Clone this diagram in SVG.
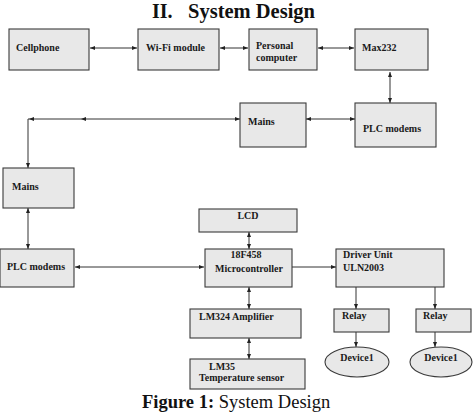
<svg xmlns="http://www.w3.org/2000/svg" width="474" height="413" viewBox="0 0 474 413">
<style>
.box{fill:#e8e8e8;stroke:#3a3a3a;stroke-width:1.1}
.lbl{font-family:"Liberation Serif",serif;font-weight:bold;font-size:10px;fill:#1a1a1a}
.c{stroke:#333;stroke-width:1;fill:none}
.ah{fill:#222}
</style>
<defs>
<marker id="a" viewBox="0 0 10 10" refX="10" refY="5" markerWidth="5" markerHeight="5" markerUnits="userSpaceOnUse" orient="auto-start-reverse">
<path d="M0,1 L10,5 L0,9 Z" fill="#222"/>
</marker>
</defs>
<rect width="474" height="413" fill="#fff"/>
<text x="152" y="18" font-family="Liberation Serif,serif" font-weight="bold" font-size="20" fill="#111">II.</text>
<text x="188" y="18" font-family="Liberation Serif,serif" font-weight="bold" font-size="20.5" fill="#111">System Design</text>

<g id="connectors">
<path class="c" d="M90,48 L137,48" marker-start="url(#a)" marker-end="url(#a)"/>
<path class="c" d="M220,48 L248,48" marker-start="url(#a)" marker-end="url(#a)"/>
<path class="c" d="M318,48 L354,48" marker-start="url(#a)" marker-end="url(#a)"/>
<path class="c" d="M390,72 L390,103" marker-start="url(#a)" marker-end="url(#a)"/>
<path class="c" d="M306,119 L355,119" marker-start="url(#a)" marker-end="url(#a)"/>
<path class="c" d="M240,119 L28,119 L28,168" marker-start="url(#a)" marker-end="url(#a)"/>
<polygon class="ah" points="81,119 86,117 86,121"/>
<polygon class="ah" points="29,119 34,117 34,121"/>
<path class="c" d="M28,208 L28,249" marker-start="url(#a)" marker-end="url(#a)"/>
<path class="c" d="M75,267 L204,267" marker-start="url(#a)" marker-end="url(#a)"/>
<path class="c" d="M249,232 L249,249" marker-start="url(#a)" marker-end="url(#a)"/>
<path class="c" d="M292,267 L336,267" marker-end="url(#a)"/>
<path class="c" d="M249,287 L249,309" marker-start="url(#a)" marker-end="url(#a)"/>
<path class="c" d="M249,338 L249,359" marker-start="url(#a)" marker-end="url(#a)"/>
<path class="c" d="M356,287 L356,309" marker-end="url(#a)"/>
<path class="c" d="M435,287 L435,309" marker-end="url(#a)"/>
<path class="c" d="M356,332 L356,347" marker-end="url(#a)"/>
<path class="c" d="M435,332 L435,347" marker-end="url(#a)"/>
</g>

<g id="cellphone"><rect class="box" x="9" y="29" width="80" height="41"/><text class="lbl" x="16" y="51">Cellphone</text></g>
<g id="wifi"><rect class="box" x="138" y="29" width="81" height="41"/><text class="lbl" x="146" y="51">Wi-Fi module</text></g>
<g id="pc"><rect class="box" x="249" y="29" width="68" height="41"/><text class="lbl" x="256" y="49">Personal</text><text class="lbl" x="256" y="61">computer</text></g>
<g id="max232"><rect class="box" x="355" y="29" width="73" height="41"/><text class="lbl" x="362" y="51">Max232</text></g>
<g id="mains1"><rect class="box" x="240" y="103" width="66" height="44"/><text class="lbl" x="248" y="125">Mains</text></g>
<g id="plc1"><rect class="box" x="355" y="103" width="81" height="44"/><text class="lbl" x="363" y="132">PLC modems</text></g>
<g id="mains2"><rect class="box" x="3" y="168" width="71" height="40"/><text class="lbl" x="12" y="190">Mains</text></g>
<g id="plc2"><rect class="box" x="0" y="249" width="74" height="38"/><text class="lbl" x="7" y="270">PLC modems</text></g>
<g id="lcd"><rect class="box" x="199" y="209" width="98" height="23"/><text class="lbl" x="248" y="219" text-anchor="middle">LCD</text></g>
<g id="micro"><rect class="box" x="205" y="249" width="87" height="38"/><text class="lbl" x="246" y="258" text-anchor="middle">18F458</text><text class="lbl" x="249" y="272" text-anchor="middle">Microcontroller</text></g>
<g id="driver"><rect class="box" x="336" y="249" width="108" height="38"/><text class="lbl" x="343" y="258">Driver Unit</text><text class="lbl" x="343" y="271">ULN2003</text></g>
<g id="lm324"><rect class="box" x="190" y="309" width="111" height="29"/><text class="lbl" x="199" y="320">LM324 Amplifier</text></g>
<g id="relay1"><rect class="box" x="334" y="309" width="55" height="23"/><text class="lbl" x="342" y="319">Relay</text></g>
<g id="relay2"><rect class="box" x="416" y="309" width="55" height="23"/><text class="lbl" x="423" y="319">Relay</text></g>
<g id="lm35"><rect class="box" x="190" y="359" width="115" height="30"/><text class="lbl" x="209" y="370">LM35</text><text class="lbl" x="199" y="381">Temperature sensor</text></g>
<g id="device1"><ellipse class="box" cx="357" cy="362" rx="32" ry="15"/><text class="lbl" x="357" y="361" text-anchor="middle">Device1</text></g>
<g id="device2"><ellipse class="box" cx="441" cy="362" rx="31" ry="15"/><text class="lbl" x="441" y="361" text-anchor="middle">Device1</text></g>

<text x="142" y="408" font-family="Liberation Serif,serif" font-size="18.5" fill="#111"><tspan font-weight="bold">Figure 1:</tspan> System Design</text>
</svg>
